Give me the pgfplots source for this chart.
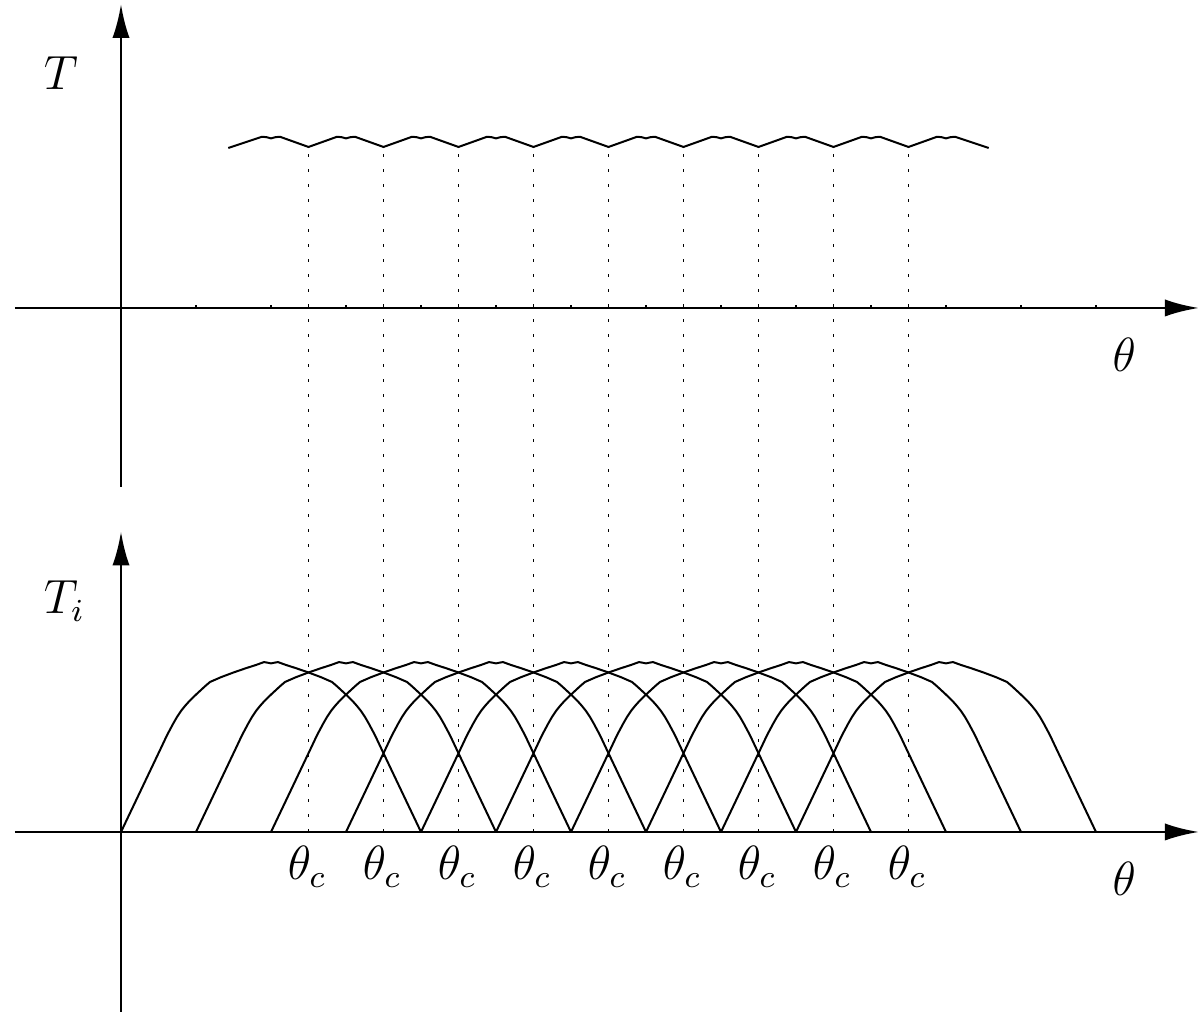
\documentclass[border=0pt]{standalone}
\usepackage{pgfplots}
\pgfplotsset{compat=1.18}
\usepackage{pgfplotstable}
\usetikzlibrary{arrows.meta}

% shape of one transmission bump T_i (theta offset from its start, height)
\pgfplotstableread{
u h
0 0
0.2667 42
0.5333 84
0.5867 92.5
0.64 100.5
0.6933 108
0.7467 115
0.8 121
0.8533 126
0.9067 130.5
0.96 134.5
1.0133 138.3
1.0667 142
1.12 145.7
1.1867 150
1.3333 154.8
1.5 159.5
1.6667 163.8
1.8 167
1.9067 169.9
1.96 169.2
2.0 168.6
2.04 169.2
2.0933 169.9
2.2 167
2.3333 163.8
2.5 159.5
2.6667 154.8
2.8133 150
2.88 145.7
2.9333 142
2.9867 138.3
3.04 134.5
3.0933 130.5
3.1467 126
3.2 121
3.2533 115
3.3067 108
3.36 100.5
3.4133 92.5
3.4667 84
3.7333 42
4.0 0
}\bump

\pgfplotsset{
  myaxis/.style={
    scale only axis, x=18.75pt, y=0.25pt,
    xmin=-1.4133, xmax=14.373,
    axis lines=middle,
    every inner x axis line/.append style={-{Latex[length=8.5pt,width=4.3pt]}},
    every inner y axis line/.append style={-{Latex[length=8.5pt,width=4.3pt]}},
    axis line style={line width=0.7pt, black},
    ytick=\empty,
    clip=false,
    no markers,
  },
}
\tikzset{lbl/.style={anchor=base west, inner sep=0pt, font=\large}}

\begin{document}
\begin{tikzpicture}
\useasboundingbox (0,0) rectangle (300.75pt,256.25pt);

% ---------- top panel: total T ----------
\begin{axis}[myaxis,
  at={(3.75pt,134.5pt)}, anchor=south west,
  ymin=-179, ymax=304,
  xtick={0,1,2,3,4,5,6,7,8,9,10,11,12,13}, xticklabels={},
  major tick length=0.8pt, tick align=inside,
  tick style={black, line width=0.3pt},
]
\addplot[black, line width=0.5pt] coordinates {
(1.43,160) (1.88,171.2) (1.94,170.8) (2,169.6) (2.06,170.8) (2.12,171.2) (2.5,161)
(2.88,171.2) (2.94,170.8) (3,169.6) (3.06,170.8) (3.12,171.2) (3.5,161)
(3.88,171.2) (3.94,170.8) (4,169.6) (4.06,170.8) (4.12,171.2) (4.5,161)
(4.88,171.2) (4.94,170.8) (5,169.6) (5.06,170.8) (5.12,171.2) (5.5,161)
(5.88,171.2) (5.94,170.8) (6,169.6) (6.06,170.8) (6.12,171.2) (6.5,161)
(6.88,171.2) (6.94,170.8) (7,169.6) (7.06,170.8) (7.12,171.2) (7.5,161)
(7.88,171.2) (7.94,170.8) (8,169.6) (8.06,170.8) (8.12,171.2) (8.5,161)
(8.88,171.2) (8.94,170.8) (9,169.6) (9.06,170.8) (9.12,171.2) (9.5,161)
(9.88,171.2) (9.94,170.8) (10,169.6) (10.06,170.8) (10.12,171.2) (10.5,161)
(10.88,171.2) (10.94,170.8) (11,169.6) (11.06,170.8) (11.12,171.2) (11.57,160)
};
\node[lbl] at (axis cs:-1.04,218) {$T$};
\node[lbl] at (axis cs:13.21,-63.5) {$\theta$};
\end{axis}

% ---------- bottom panel: individual T_i ----------
\begin{axis}[myaxis,
  at={(3.75pt,3.25pt)}, anchor=south west,
  ymin=-180, ymax=300.5,
  xtick=\empty,
]
\pgfplotsinvokeforeach{0,1,2,3,4,5,6,7,8,9}{
  \addplot[black, line width=0.5pt, line join=round] table[x expr=\thisrow{u}+#1, y=h] {\bump};
}
\pgfplotsinvokeforeach{2.5,3.5,4.5,5.5,6.5,7.5,8.5,9.5,10.5}{
  \addplot[black, line width=0.3pt, dash pattern=on 0.75pt off 3pt] coordinates {(#1,0) (#1,685)};
  \node[lbl, xshift=-5.375pt] at (axis cs:#1,-48) {$\theta_c$};
}
\node[lbl] at (axis cs:-1.04,218) {$T_i$};
\node[lbl] at (axis cs:13.21,-63.5) {$\theta$};
\end{axis}
\end{tikzpicture}
\end{document}
